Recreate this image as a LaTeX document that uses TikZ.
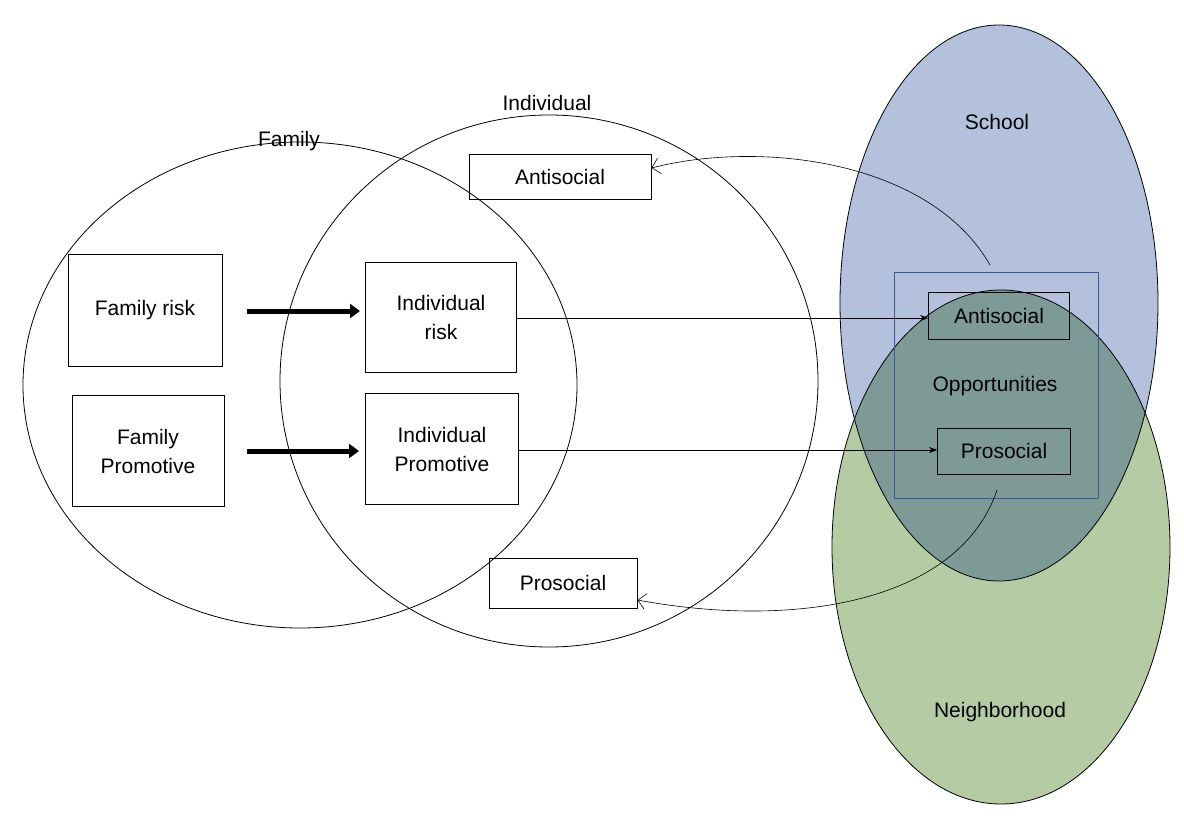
\documentclass[tikz,border=0pt]{standalone}
\usepackage{fontspec}
\setmainfont{Liberation Sans}
\usetikzlibrary{arrows.meta}
\definecolor{sch}{HTML}{B3C1DC}
\definecolor{nbh}{HTML}{B4CBA4}
\definecolor{ovl}{HTML}{7D9A97}
\definecolor{opp}{HTML}{3A5A9A}
\tikzset{
 lbl/.style={font=\fontsize{21}{25}\selectfont},
 bx/.style={draw,thick,lbl,align=center,inner sep=0pt},
 fat/.style={line width=5pt,-{Triangle[length=10pt,width=14pt]}},
 thin/.style={semithick,-{Stealth[length=8pt]}},
 curv/.style={semithick,-{Straight Barb[length=8pt]}}
}
\begin{document}
\begin{tikzpicture}[x=1pt,y=-1pt]
\useasboundingbox (0,0) rectangle (1184,824);
% school / neighborhood
\fill[nbh] (1001,547) ellipse [x radius=169,y radius=257];
\fill[sch] (999,303) ellipse [x radius=159,y radius=278];
\begin{scope}
\clip (999,303) ellipse [x radius=159,y radius=278];
\fill[ovl] (1001,547) ellipse [x radius=169,y radius=257];
\end{scope}
\draw[thick] (1001,547) ellipse [x radius=169,y radius=257];
\draw[thick] (999,303) ellipse [x radius=159,y radius=278];
\draw[thick] (300,385) ellipse [x radius=277,y radius=243];
\draw[thick] (549,381) ellipse [x radius=269,y radius=266];
\node[draw=opp,thick,minimum width=204,minimum height=226,anchor=north west] (opp) at (894,272) {};
\node[lbl] (opptxt) at (995,386) {Opportunities};
\node[lbl] (ind) at (547,103) {Individual};
\node[lbl] (fam) at (289,141) {Family};
\node[lbl] (sch) at (997,122) {School};
\node[lbl] (nb) at (1000,712) {Neighborhood};
\node[bx,minimum width=154,minimum height=112] (fr) at (145,310) {Family risk};
\node[bx,minimum width=152,minimum height=111] (fp) at (148,451) {Family\\[4pt]Promotive};
\node[bx,minimum width=151,minimum height=110] (ir) at (441,317) {Individual\\[4pt]risk};
\node[bx,minimum width=153,minimum height=111] (ip) at (442,449) {Individual\\[4pt]Promotive};
\node[bx,minimum width=182,minimum height=45] (at) at (560,177) {Antisocial};
\node[bx,minimum width=148,minimum height=50] (pb) at (563,583) {Prosocial};
\node[bx,minimum width=141,minimum height=47] (ar) at (999,316) {Antisocial};
\node[bx,minimum width=133,minimum height=46] (pr) at (1004,451) {Prosocial};
\coordinate (a1) at (247,311); \coordinate (a2) at (360,311);
\coordinate (b1) at (247,451); \coordinate (b2) at (359,451);
\draw[fat] (a1) -- (a2);
\draw[fat] (b1) -- (b2);
\draw[thin] (ir.east |- 0,318) -- (ar.west |- 0,318);
\draw[thin] (ip.east |- 0,450) -- (pr.west |- 0,450);
\coordinate (c1) at (990,265);
\coordinate (c2) at (997,490);
\draw[curv] (c1) .. controls (930,160) and (760,140) .. (at.east |- 0,168);
\draw[curv] (c2) .. controls (960,600) and (800,630) .. (pb.east |- 0,600);
\end{tikzpicture}
\end{document}
